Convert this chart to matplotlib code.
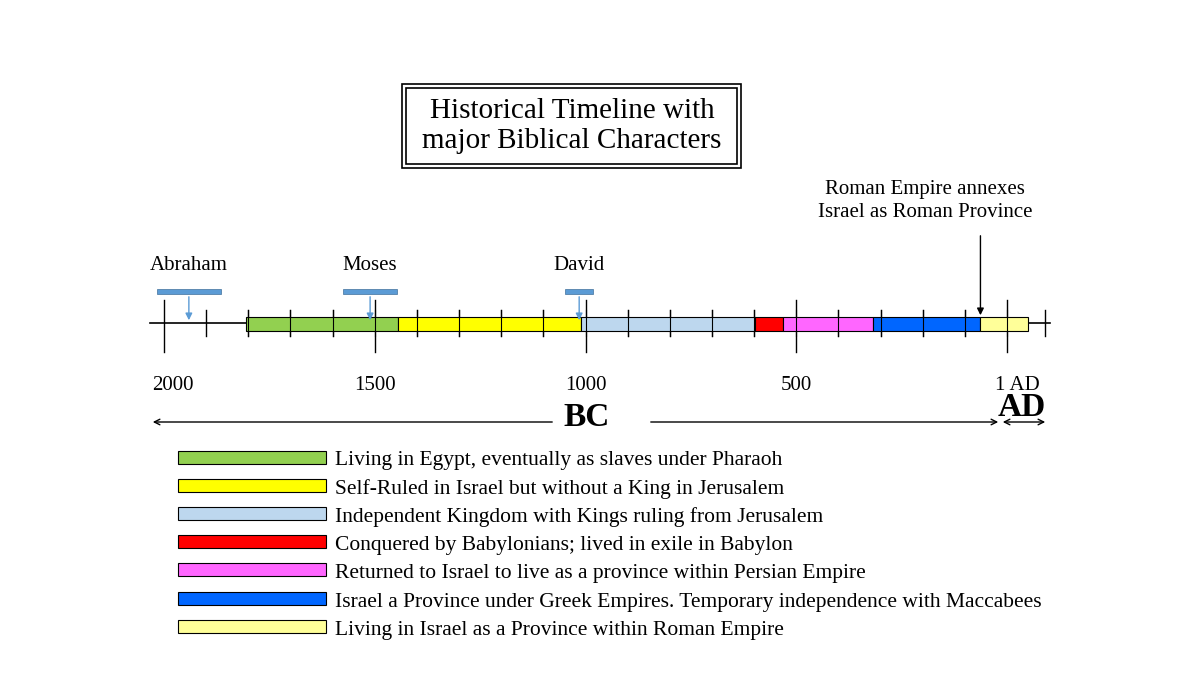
import matplotlib.pyplot as plt
from matplotlib.patches import Rectangle

# periods (year, negative = BC)
period_start = [-1805, -1446, -1010, -598, -531, -318, -63]
period_end = [-1446, -1010, -598, -531, -318, -63, 50]
period_colors = ['#92d050', '#ffff00', '#bdd7ee', '#ff0000', '#ff66ff', '#0066ff', '#ffff99']
period_labels = [
    'Living in Egypt, eventually as slaves under Pharaoh',
    'Self-Ruled in Israel but without a King in Jerusalem',
    'Independent Kingdom with Kings ruling from Jerusalem',
    'Conquered by Babylonians; lived in exile in Babylon',
    'Returned to Israel to live as a province within Persian Empire',
    'Israel a Province under Greek Empires. Temporary independence with Maccabees',
    'Living in Israel as a Province within Roman Empire',
]

people = ['Abraham', 'Moses', 'David']
people_year = [-1941, -1511, -1015]
people_span = [(-2017, -1865), (-1575, -1447), (-1049, -982)]

year_ticks = [-2000, -1500, -1000, -500, 0]
year_labels = ['2000', '1500', '1000', '500', '1 AD']

PX = 0.4215  # pixels per year
def yr(px):
    return (px - 164) / PX - 2000

plt.rcParams['font.family'] = ['Liberation Serif', 'DejaVu Serif']
fig = plt.figure(figsize=(12, 6.75), dpi=100)
ax = fig.add_axes([0, 0, 1, 1])
ax.set_xlim(yr(0), yr(1200))
ax.set_ylim(675, 0)
ax.axis('off')

# main axis line
ax.plot([yr(150), yr(1050)], [323, 323], color='black', lw=1.2)
for t in range(-2000, 1, 100):
    if t % 500 == 0:
        ax.plot([t, t], [300, 352], color='black', lw=1)
    else:
        ax.plot([t, t], [310, 336], color='black', lw=1)
ax.plot([90, 90], [310, 336], color='black', lw=1)

for s, e, c in zip(period_start, period_end, period_colors):
    ax.add_patch(Rectangle((s, 317), e - s, 14, facecolor=c, edgecolor='black', lw=0.8, zorder=3))
for t in range(-1800, 1, 100):
    if -1805 < t < 50:
        ax.plot([t, t], [310, 336], color='black', lw=0.8, zorder=4)

for t, l in zip(year_ticks, year_labels):
    ax.text(t + (25 if t == 0 else 20 if t == -2000 else 0), 385, l, ha='center', va='center', fontsize=15)

# biblical characters
for name, y0, (a, b) in zip(people, people_year, people_span):
    ax.add_patch(Rectangle((a, 289), b - a, 5, facecolor='#5b9bd5', edgecolor='#41719c', lw=0.5, zorder=5))
    ax.annotate('', xy=(y0, 323), xytext=(y0, 294),
                arrowprops=dict(arrowstyle='-|>', color='#5b9bd5', lw=1), zorder=5)
    ax.text((a + b) / 2, 265, name, ha='center', va='center', fontsize=15)

ax.text(yr(925), 201, 'Roman Empire annexes\nIsrael as Roman Province', ha='center', va='center',
        fontsize=15, linespacing=1.25)
ax.annotate('', xy=(-63, 318), xytext=(-63, 233),
            arrowprops=dict(arrowstyle='-|>', color='black', lw=1))

# BC / AD arrows
ax.annotate('', xy=(yr(150), 422), xytext=(yr(555), 422), arrowprops=dict(arrowstyle='->', lw=1))
ax.annotate('', xy=(yr(1001), 422), xytext=(yr(648), 422), arrowprops=dict(arrowstyle='->', lw=1))
ax.annotate('', xy=(yr(1048), 422), xytext=(yr(1000), 422), arrowprops=dict(arrowstyle='<->', lw=1))
ax.text(yr(587), 418, 'BC', ha='center', va='center', fontsize=24, fontweight='bold')
ax.text(yr(1022), 408, 'AD', ha='center', va='center', fontsize=24, fontweight='bold')

# title box
ax.add_patch(Rectangle((yr(402), 84), yr(741) - yr(402), 84, fill=False, ec='black', lw=1.2))
ax.add_patch(Rectangle((yr(406), 88), yr(737) - yr(406), 76, fill=False, ec='black', lw=1.2))
ax.text(yr(572), 126, 'Historical Timeline with\nmajor Biblical Characters', ha='center', va='center',
        fontsize=21, linespacing=1.25)

# legend
for i, (c, l) in enumerate(zip(period_colors, period_labels)):
    y = 457 + i * 28.2
    ax.add_patch(Rectangle((yr(178), y - 6.5), yr(326) - yr(178), 13, facecolor=c, edgecolor='black', lw=0.8))
    ax.text(yr(335), y + 4, l, ha='left', va='center', fontsize=15.5)

fig.savefig('out.png', dpi=100)
